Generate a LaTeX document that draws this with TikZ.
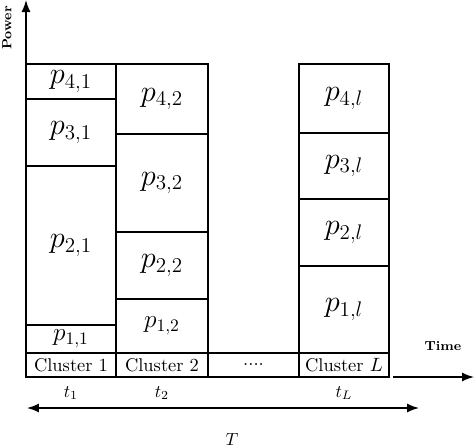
\documentclass[tikz,border=0pt]{standalone}
\usepackage{amsmath,amssymb}
\usepackage{tikz}
\usetikzlibrary{positioning,arrows.meta}

\begin{document}
\begin{tikzpicture}[
        x=0.02cm, y=-0.02cm,
        cell/.style={draw, thick, inner sep=0pt, outer sep=0pt, minimum width=1.8cm, font=\LARGE},
        lab/.style={cell, minimum height=0.48cm, font=\fontsize{10.5}{12}\selectfont},
        axis/.style={-{Latex[length=2.4mm,width=1.8mm]}, thick},
        span/.style={{Latex[length=2.4mm,width=1.8mm]}-{Latex[length=2.4mm,width=1.8mm]}, thick},
    ]
        \useasboundingbox (0,0) rectangle (474,447);

        % cluster 1
        \node[cell, minimum height=0.70cm] (p41) at (71,81.5) {$p_{4,1}$};
        \node[cell, minimum height=1.34cm] (p31) at (71,132.5) {$p_{3,1}$};
        \node[cell, minimum height=3.18cm] (p21) at (71,245.5) {$p_{2,1}$};
        \node[cell, minimum height=0.56cm, font=\Large] (p11) at (71,339) {$p_{1,1}$};
        % cluster 2
        \node[cell, minimum width=1.84cm, minimum height=1.40cm] (p42) at (162,99) {$p_{4,2}$};
        \node[cell, minimum width=1.84cm, minimum height=1.96cm] (p32) at (162,183) {$p_{3,2}$};
        \node[cell, minimum width=1.84cm, minimum height=1.34cm] (p22) at (162,265.5) {$p_{2,2}$};
        \node[cell, minimum width=1.84cm, minimum height=1.08cm, font=\Large] (p12) at (162,326) {$p_{1,2}$};
        % cluster L
        \node[cell, minimum height=1.38cm] (p4l) at (344,98.5) {$p_{4,l}$};
        \node[cell, minimum height=1.32cm] (p3l) at (344,166) {$p_{3,l}$};
        \node[cell, minimum height=1.34cm] (p2l) at (344,232.5) {$p_{2,l}$};
        \node[cell, minimum height=1.74cm] (p1l) at (344,309.5) {$p_{1,l}$};

        % cluster labels
        \node[lab] (c1) at (71,365) {Cluster 1};
        \node[lab, minimum width=1.84cm] (c2) at (162,365) {Cluster 2};
        \node[lab, minimum width=1.82cm] (cdots) at (253.5,365) {....};
        \node[lab] (cL) at (344,365) {Cluster $L$};

        % axes
        \coordinate (origin) at (26,377);
        \coordinate (ytop) at (26,0);
        \coordinate (tstart) at (393,377);
        \coordinate (tend) at (474,377);
        \draw[axis] (origin) -- (ytop);
        \draw[axis] (tstart) -- (tend);
        \node[rotate=90, font=\fontsize{7.5}{9}\selectfont\bfseries] (power) at (7,28) {Power};
        \node[font=\fontsize{7.5}{9}\selectfont\bfseries] (time) at (443,346) {Time};

        % durations
        \node (t1) at (71,393) {$t_1$};
        \node (t2) at (162,393) {$t_2$};
        \node (tL) at (344,393) {$t_L$};
        \coordinate (left) at (27,408);
        \coordinate (right) at (419,408);
        \draw[span] (left) -- (right);
        \node (T) at (232,439) {$T$};
    \end{tikzpicture}
\end{document}
